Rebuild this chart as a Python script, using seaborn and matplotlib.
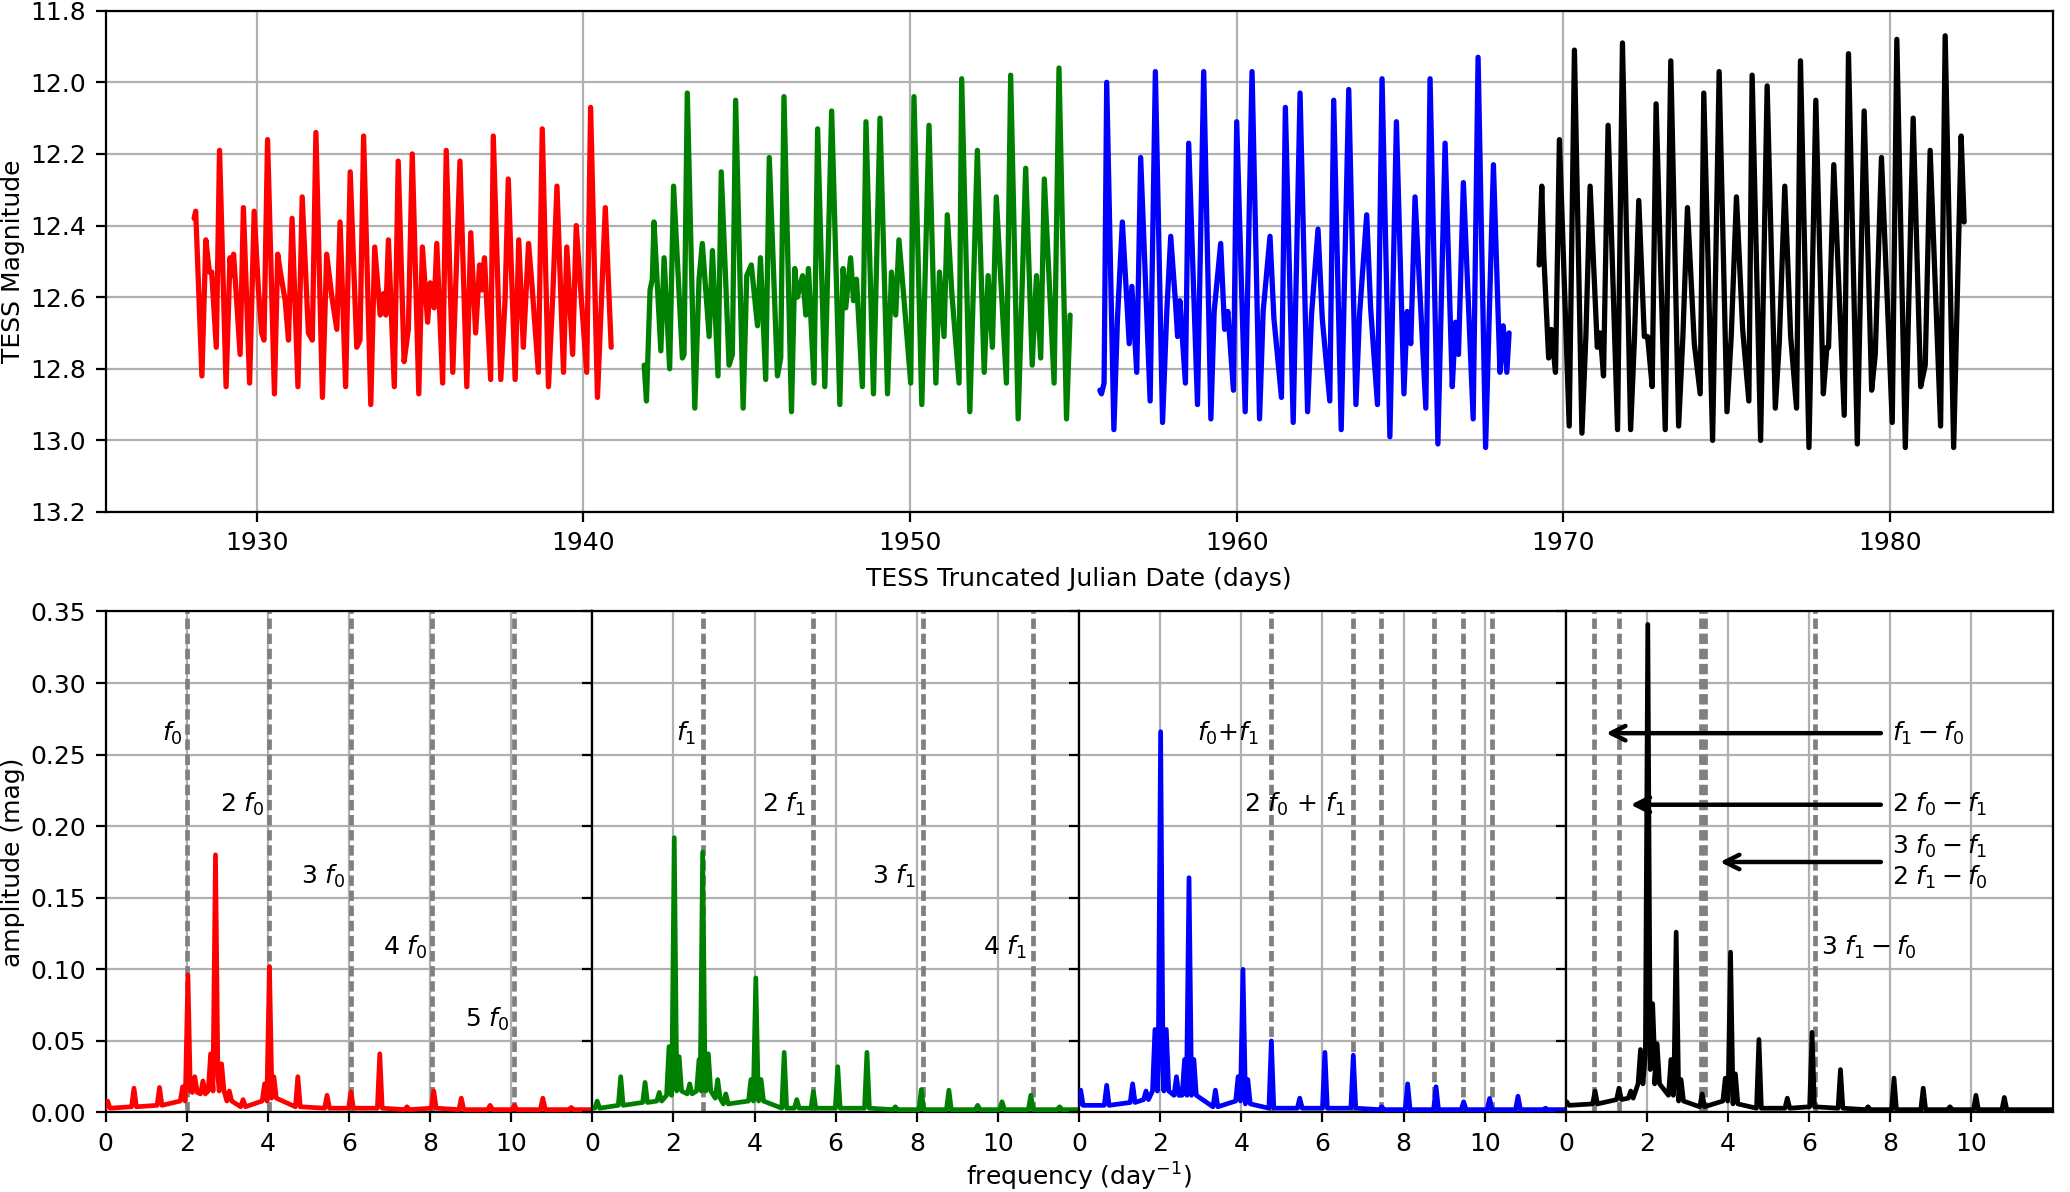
import numpy as np
import pandas as pd
import matplotlib
matplotlib.use("Agg")
import matplotlib.pyplot as plt
import seaborn as sns

# LIGHT CURVE (turning points of each sector)
# ---------------------------------------------------------------
s1_time = [1928.08, 1928.13, 1928.32, 1928.44, 1928.55, 1928.62, 1928.76, 1928.86, 1929.06, 1929.18,
           1929.23, 1929.29, 1929.49, 1929.59, 1929.78, 1929.92, 1930.05, 1930.15, 1930.22, 1930.33,
           1930.54, 1930.64, 1930.74, 1930.87, 1930.97, 1931.08, 1931.26, 1931.39, 1931.58, 1931.70,
           1931.81, 1932.01, 1932.14, 1932.30, 1932.45, 1932.55, 1932.72, 1932.86, 1933.06, 1933.16,
           1933.27, 1933.49, 1933.61, 1933.78, 1933.88, 1933.95, 1934.03, 1934.21, 1934.33, 1934.51,
           1934.64, 1934.76, 1934.96, 1935.07, 1935.23, 1935.31, 1935.43, 1935.51, 1935.69, 1935.80,
           1936.00, 1936.22, 1936.43, 1936.55, 1936.70, 1936.82, 1936.89, 1936.97, 1937.16, 1937.24,
           1937.47, 1937.60, 1937.70, 1937.91, 1938.02, 1938.16, 1938.32, 1938.42, 1938.62, 1938.74,
           1938.93, 1939.06, 1939.19, 1939.39, 1939.49, 1939.67, 1939.78, 1939.90, 1940.10, 1940.22,
           1940.43, 1940.56, 1940.67, 1940.85]
s1_mag = [12.38, 12.36, 12.82, 12.44, 12.53, 12.53, 12.74, 12.19, 12.85, 12.49,
          12.54, 12.48, 12.76, 12.35, 12.84, 12.36, 12.58, 12.70, 12.72, 12.16,
          12.87, 12.48, 12.54, 12.61, 12.72, 12.38, 12.85, 12.32, 12.70, 12.72,
          12.14, 12.88, 12.48, 12.60, 12.69, 12.39, 12.85, 12.25, 12.74, 12.72,
          12.15, 12.90, 12.46, 12.65, 12.59, 12.65, 12.44, 12.85, 12.22, 12.78,
          12.69, 12.20, 12.87, 12.46, 12.67, 12.56, 12.63, 12.45, 12.84, 12.19,
          12.81, 12.22, 12.85, 12.42, 12.70, 12.51, 12.58, 12.49, 12.83, 12.15,
          12.83, 12.61, 12.27, 12.83, 12.44, 12.74, 12.45, 12.56, 12.81, 12.13,
          12.85, 12.60, 12.29, 12.81, 12.46, 12.76, 12.40, 12.56, 12.81, 12.07,
          12.88, 12.59, 12.35, 12.74]

s2_time = [1941.86, 1941.93, 1942.04, 1942.11, 1942.16, 1942.37, 1942.47, 1942.64, 1942.76, 1943.03,
           1943.08, 1943.18, 1943.41, 1943.54, 1943.64, 1943.85, 1943.95, 1944.12, 1944.22, 1944.46,
           1944.56, 1944.66, 1944.89, 1945.00, 1945.14, 1945.33, 1945.42, 1945.58, 1945.69, 1945.94,
           1946.04, 1946.14, 1946.37, 1946.47, 1946.55, 1946.71, 1946.81, 1946.89, 1947.06, 1947.17,
           1947.39, 1947.60, 1947.85, 1947.95, 1948.03, 1948.18, 1948.27, 1948.36, 1948.54, 1948.65,
           1948.88, 1949.08, 1949.31, 1949.43, 1949.56, 1949.66, 1949.80, 1950.02, 1950.12, 1950.36,
           1950.58, 1950.79, 1950.90, 1951.04, 1951.14, 1951.28, 1951.50, 1951.58, 1951.83, 1952.06,
           1952.27, 1952.39, 1952.52, 1952.64, 1952.95, 1953.08, 1953.31, 1953.54, 1953.74, 1953.87,
           1954.00, 1954.11, 1954.41, 1954.56, 1954.79, 1954.90]
s2_mag = [12.79, 12.89, 12.58, 12.55, 12.39, 12.75, 12.49, 12.80, 12.29, 12.77,
          12.76, 12.03, 12.91, 12.55, 12.45, 12.71, 12.47, 12.82, 12.25, 12.79,
          12.76, 12.05, 12.91, 12.54, 12.51, 12.68, 12.49, 12.83, 12.21, 12.82,
          12.77, 12.04, 12.92, 12.52, 12.60, 12.54, 12.65, 12.52, 12.84, 12.13,
          12.85, 12.08, 12.90, 12.52, 12.63, 12.49, 12.61, 12.55, 12.85, 12.11,
          12.87, 12.10, 12.87, 12.53, 12.65, 12.44, 12.59, 12.84, 12.04, 12.90,
          12.12, 12.84, 12.53, 12.71, 12.37, 12.59, 12.84, 11.99, 12.92, 12.19,
          12.81, 12.54, 12.74, 12.32, 12.84, 11.98, 12.94, 12.24, 12.79, 12.54,
          12.77, 12.27, 12.84, 11.96, 12.94, 12.65]

s3_time = [1955.81, 1955.86, 1955.94, 1956.02, 1956.24, 1956.35, 1956.50, 1956.71, 1956.79, 1956.94,
           1957.06, 1957.35, 1957.51, 1957.73, 1957.86, 1957.98, 1958.13, 1958.19, 1958.26, 1958.43,
           1958.53, 1958.80, 1958.99, 1959.21, 1959.31, 1959.51, 1959.63, 1959.73, 1959.90, 1960.00,
           1960.26, 1960.47, 1960.70, 1960.81, 1961.02, 1961.14, 1961.37, 1961.49, 1961.73, 1961.94,
           1962.17, 1962.29, 1962.49, 1962.62, 1962.85, 1962.97, 1963.20, 1963.43, 1963.65, 1963.76,
           1963.98, 1964.10, 1964.31, 1964.45, 1964.69, 1964.89, 1965.12, 1965.22, 1965.33, 1965.46,
           1965.79, 1965.92, 1966.16, 1966.38, 1966.60, 1966.70, 1966.79, 1966.94, 1967.24, 1967.39,
           1967.62, 1967.86, 1968.06, 1968.16, 1968.27, 1968.34]
s3_mag = [12.86, 12.87, 12.84, 12.00, 12.97, 12.66, 12.39, 12.73, 12.57, 12.81,
          12.21, 12.89, 11.97, 12.95, 12.64, 12.43, 12.62, 12.71, 12.61, 12.84,
          12.17, 12.90, 11.97, 12.94, 12.64, 12.45, 12.69, 12.64, 12.86, 12.11,
          12.92, 11.97, 12.94, 12.64, 12.43, 12.66, 12.88, 12.07, 12.95, 12.03,
          12.92, 12.65, 12.41, 12.66, 12.89, 12.05, 12.97, 12.02, 12.90, 12.65,
          12.37, 12.63, 12.90, 11.99, 12.99, 12.11, 12.87, 12.64, 12.73, 12.32,
          12.91, 11.99, 13.01, 12.17, 12.85, 12.67, 12.76, 12.28, 12.94, 11.93,
          13.02, 12.23, 12.81, 12.68, 12.81, 12.70]

s4_time = [1969.26, 1969.34, 1969.40, 1969.55, 1969.63, 1969.76, 1969.88, 1970.18, 1970.34, 1970.57,
           1970.69, 1970.82, 1971.04, 1971.13, 1971.23, 1971.37, 1971.66, 1971.81, 1972.06, 1972.18,
           1972.31, 1972.48, 1972.58, 1972.72, 1972.84, 1973.12, 1973.29, 1973.53, 1973.66, 1973.80,
           1974.01, 1974.19, 1974.30, 1974.57, 1974.77, 1975.01, 1975.14, 1975.30, 1975.49, 1975.68,
           1975.78, 1976.04, 1976.24, 1976.49, 1976.61, 1976.78, 1976.96, 1977.14, 1977.26, 1977.52,
           1977.73, 1977.96, 1978.07, 1978.12, 1978.28, 1978.60, 1978.73, 1979.00, 1979.21, 1979.44,
           1979.55, 1979.74, 1980.07, 1980.21, 1980.47, 1980.71, 1980.94, 1981.08, 1981.23, 1981.55,
           1981.69, 1981.95, 1982.18, 1982.27]
s4_mag = [12.51, 12.29, 12.48, 12.77, 12.69, 12.81, 12.16, 12.96, 11.91, 12.98,
          12.71, 12.29, 12.74, 12.70, 12.82, 12.12, 12.97, 11.89, 12.97, 12.71,
          12.33, 12.71, 12.71, 12.85, 12.06, 12.97, 11.94, 12.96, 12.71, 12.35,
          12.73, 12.87, 12.03, 13.00, 11.97, 12.92, 12.71, 12.32, 12.69, 12.89,
          11.98, 13.00, 12.01, 12.91, 12.73, 12.29, 12.71, 12.91, 11.94, 13.02,
          12.05, 12.87, 12.74, 12.74, 12.23, 12.93, 11.92, 13.01, 12.08, 12.86,
          12.76, 12.21, 12.95, 11.88, 13.02, 12.10, 12.85, 12.79, 12.19, 12.96,
          11.87, 13.02, 12.15, 12.39]

# AMPLITUDE SPECTRA: peak frequency (1/d), peak amplitude, level at the foot of the peak (mag)
# ---------------------------------------------------------------
sp1_freq = [0.05, 0.70, 1.33, 1.90, 2.03, 2.20, 2.40, 2.59, 2.71, 2.86, 3.05, 3.39, 3.92, 4.04, 4.15,
            4.74, 5.46, 6.05, 6.76, 7.43, 8.09, 8.77, 9.48, 10.08, 10.78, 11.48, 11.92]
sp1_amp = [0.008, 0.017, 0.0175, 0.018, 0.096, 0.025, 0.022, 0.041, 0.180, 0.034, 0.015, 0.009, 0.020, 0.102, 0.025,
           0.025, 0.012, 0.0145, 0.041, 0.004, 0.015, 0.010, 0.005, 0.005, 0.010, 0.0035, 0.002]
sp1_base = [0.003, 0.004, 0.005, 0.008, 0.015, 0.014, 0.013, 0.015, 0.025, 0.015, 0.008, 0.004, 0.008, 0.015, 0.010,
            0.004, 0.003, 0.003, 0.003, 0.002, 0.003, 0.002, 0.002, 0.002, 0.002, 0.002, 0.002]

sp2_freq = [0.12, 0.70, 1.30, 1.65, 1.89, 2.02, 2.14, 2.40, 2.63, 2.72, 2.86, 3.09, 3.29, 3.91, 4.03, 4.16,
            4.73, 5.04, 5.45, 6.05, 6.77, 7.47, 8.11, 8.79, 9.50, 10.10, 10.81, 11.52, 11.92]
sp2_amp = [0.008, 0.025, 0.021, 0.014, 0.046, 0.192, 0.039, 0.020, 0.037, 0.182, 0.041, 0.023, 0.013, 0.023, 0.094, 0.023,
           0.042, 0.009, 0.0145, 0.032, 0.042, 0.004, 0.016, 0.0156, 0.005, 0.0075, 0.012, 0.004, 0.002]
sp2_base = [0.003, 0.005, 0.007, 0.008, 0.012, 0.020, 0.015, 0.013, 0.015, 0.020, 0.015, 0.010, 0.006, 0.008, 0.012, 0.008,
            0.003, 0.003, 0.003, 0.003, 0.003, 0.002, 0.002, 0.002, 0.002, 0.002, 0.002, 0.002, 0.002]

sp3_freq = [0.04, 0.68, 1.32, 1.65, 1.87, 2.01, 2.15, 2.40, 2.60, 2.71, 2.83, 3.36, 3.92, 4.04, 4.16,
            4.74, 5.44, 6.06, 6.76, 7.46, 8.10, 8.80, 9.48, 10.12, 10.82, 11.50, 11.92]
sp3_amp = [0.0156, 0.019, 0.020, 0.015, 0.058, 0.266, 0.058, 0.025, 0.037, 0.164, 0.037, 0.0156, 0.025, 0.100, 0.023,
           0.050, 0.010, 0.042, 0.040, 0.004, 0.020, 0.018, 0.0075, 0.0098, 0.0114, 0.003, 0.002]
sp3_base = [0.005, 0.005, 0.007, 0.009, 0.015, 0.030, 0.015, 0.012, 0.012, 0.020, 0.012, 0.004, 0.008, 0.012, 0.006,
            0.003, 0.003, 0.003, 0.003, 0.002, 0.002, 0.002, 0.002, 0.002, 0.002, 0.002, 0.002]

sp4_freq = [0.02, 0.72, 1.31, 1.60, 1.84, 2.02, 2.14, 2.25, 2.59, 2.72, 2.84, 3.36, 3.93, 4.06, 4.18,
            4.76, 5.46, 6.07, 6.77, 7.45, 8.09, 8.81, 9.47, 10.11, 10.81, 11.92]
sp4_amp = [0.0075, 0.015, 0.017, 0.015, 0.044, 0.341, 0.076, 0.048, 0.037, 0.126, 0.023, 0.013, 0.024, 0.112, 0.027,
           0.051, 0.010, 0.056, 0.030, 0.004, 0.024, 0.017, 0.004, 0.012, 0.0105, 0.002]
sp4_base = [0.005, 0.006, 0.009, 0.010, 0.020, 0.040, 0.030, 0.020, 0.012, 0.015, 0.008, 0.004, 0.008, 0.012, 0.006,
            0.003, 0.003, 0.004, 0.003, 0.002, 0.002, 0.002, 0.002, 0.002, 0.002, 0.002]

# the two pulsation frequencies (1/d) and the combinations marked in each panel (n0*f0 + n1*f1)
f0 = 2.014
f1 = 2.718
combos = [[(1, 0), (2, 0), (3, 0), (4, 0), (5, 0)],
          [(0, 1), (0, 2), (0, 3), (0, 4)],
          [(1, 1), (2, 1), (1, 2), (3, 1), (2, 2), (1, 3)],
          [(-1, 1), (2, -1), (3, -1), (-1, 2), (-1, 3)]]

colors = ["red", "green", "blue", "black"]
FS = 9


# FUNCTIONS
# ---------
def spectrum_frame(freq, amp, base, hw=0.06):
    # each peak drawn as a narrow spike standing on its local level
    xs, ys = [], []
    for f, a, b in zip(freq, amp, base):
        xs += [f - hw, f, f + hw]
        ys += [b, a, b]
    return pd.DataFrame({"freq": xs, "amp": ys})


# STYLE
# -----
sns.set_theme(context="paper", style="ticks", font="DejaVu Sans",
              rc={"font.size": FS, "axes.labelsize": FS, "xtick.labelsize": FS, "ytick.labelsize": FS,
                  "axes.edgecolor": "black", "axes.labelcolor": "black", "text.color": "black",
                  "xtick.color": "black", "ytick.color": "black", "axes.linewidth": 0.8,
                  "xtick.major.size": 3.5, "ytick.major.size": 3.5, "xtick.major.width": 0.8,
                  "ytick.major.width": 0.8, "grid.color": "#b0b0b0", "grid.linewidth": 0.8,
                  "mathtext.fontset": "dejavusans"})
plt.rcParams["font.family"] = ["DejaVu Sans"]

fig = plt.figure(figsize=(10.35, 5.96), dpi=200)

# TOP: LIGHT CURVE
# ----------------
ax_lc = fig.add_axes([0.051, 0.5705, 0.9406, 0.4205])
for t, m, c in zip([s1_time, s2_time, s3_time, s4_time], [s1_mag, s2_mag, s3_mag, s4_mag], colors):
    sns.lineplot(x=t, y=m, ax=ax_lc, color=c, lw=1.9, sort=False, estimator=None)
ax_lc.set_ylim(13.2, 11.8)
ax_lc.set_yticks(np.arange(11.8, 13.21, 0.2))
ax_lc.set_xticks([1930, 1940, 1950, 1960, 1970, 1980])
ax_lc.grid(True)
ax_lc.set_xlabel("TESS Truncated Julian Date (days)")
ax_lc.set_ylabel("TESS Magnitude")
ax_lc.yaxis.set_label_coords(-0.0415, 0.5)

# BOTTOM: AMPLITUDE SPECTRA
# -------------------------
spectra = [(sp1_freq, sp1_amp, sp1_base), (sp2_freq, sp2_amp, sp2_base),
           (sp3_freq, sp3_amp, sp3_base), (sp4_freq, sp4_amp, sp4_base)]
axes = []
pw = 0.9406 / 4
for i in range(4):
    ax = fig.add_axes([0.051 + i * pw, 0.0667, pw, 0.4203], sharey=axes[0] if axes else None)
    axes.append(ax)
    df = spectrum_frame(*spectra[i])
    sns.lineplot(data=df, x="freq", y="amp", ax=ax, color=colors[i], lw=1.7, sort=False,
                 estimator=None, zorder=3)
    for n0, n1 in combos[i]:
        ax.axvline(n0 * f0 + n1 * f1, color="gray", lw=1.7, ls=(0, (2.2, 1.0)), zorder=2)
    ax.set_xlim(0, 12)
    ax.set_ylim(0, 0.35)
    ax.set_xticks([0, 2, 4, 6, 8, 10])
    ax.set_yticks(np.arange(0, 0.351, 0.05))
    ax.grid(True)
    ax.set_xlabel("")
    ax.set_ylabel("")
    if i > 0:
        ax.tick_params(labelleft=False)

axes[0].yaxis.set_major_formatter(matplotlib.ticker.FormatStrFormatter("%.2f"))
axes[0].set_ylabel("amplitude (mag)")
axes[0].yaxis.set_label_coords(-0.166, 0.5)
fig.text(0.5213, 0.0126, "frequency (day$^{-1}$)", ha="center", va="center", fontsize=FS)

# harmonic labels
levels = [0.265, 0.215, 0.165, 0.115, 0.065]
for k, txt in enumerate(["$f_0$", "2 $f_0$", "3 $f_0$", "4 $f_0$", "5 $f_0$"]):
    axes[0].text((k + 1) * f0 - 0.12, levels[k], txt, ha="right", va="center", fontsize=FS)
for k, txt in enumerate(["$f_1$", "2 $f_1$", "3 $f_1$", "4 $f_1$"]):
    axes[1].text((k + 1) * f1 - 0.16, levels[k], txt, ha="right", va="center", fontsize=FS)
axes[2].text(f0 + f1 - 0.3, levels[0], "$f_0$+$f_1$", ha="right", va="center", fontsize=FS)
axes[2].text(2 * f0 + f1 - 0.18, levels[1], "2 $f_0$ + $f_1$", ha="right", va="center", fontsize=FS)

# difference frequencies
arrow = dict(arrowstyle="->", lw=1.6, color="black", mutation_scale=13)
axes[3].annotate("$f_1 - f_0$", xy=(f1 - f0 + 0.15, 0.265), xytext=(8.05, 0.265),
                 ha="left", va="center", fontsize=FS, arrowprops=arrow)
axes[3].annotate("2 $f_0 - f_1$", xy=(2 * f0 - f1 + 0.15, 0.215), xytext=(8.05, 0.215),
                 ha="left", va="center", fontsize=FS, arrowprops=arrow)
axes[3].annotate("3 $f_0 - f_1$\n2 $f_1 - f_0$", xy=(2 * f1 - f0 + 0.24, 0.175), xytext=(8.05, 0.175),
                 ha="left", va="center", fontsize=FS, arrowprops=arrow)
axes[3].text(3 * f1 - f0 + 0.14, 0.115, "3 $f_1 - f_0$", ha="left", va="center", fontsize=FS)

fig.savefig("out.png", dpi=200)
